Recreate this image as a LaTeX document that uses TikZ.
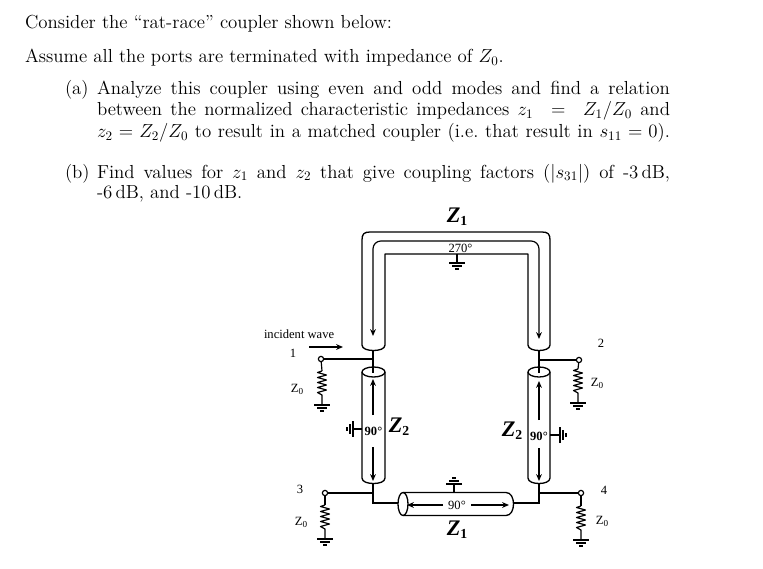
\documentclass[tikz,border=0pt]{standalone}
\usepackage{fontspec}
\usetikzlibrary{arrows.meta}
\newfontfamily\labfont{Liberation Serif}
\newcommand{\lsub}[1]{\raisebox{-0.35ex}{\scriptsize #1}}
\newcommand{\bigZ}[1]{{\fontsize{17}{20}\selectfont\bfseries\itshape Z\raisebox{-0.3ex}{\upshape\fontsize{10.5}{12}\selectfont #1}}}
\newcommand{\jline}[1]{\makebox[437.5pt][s]{#1}}
\tikzset{
  x=0.7635pt,y=-0.7635pt,
  wire/.style={line width=0.9pt,line cap=butt},
  tube/.style={line width=1pt},
  flow/.style={line width=0.9pt,-{Stealth[length=5.2pt,width=4.4pt]}},
  flowtwo/.style={line width=0.9pt,{Stealth[length=5.2pt,width=4.4pt]}-{Stealth[length=5.2pt,width=4.4pt]}},
  txt/.style={anchor=base west,inner sep=0pt,outer sep=0pt,font=\Large},
  lab/.style={inner sep=0pt,outer sep=0pt,font=\labfont\fontsize{9.6}{12}\selectfont},
  labb/.style={inner sep=0pt,outer sep=0pt,font=\labfont\bfseries\fontsize{9.6}{12}\selectfont},
  port/.style={circle,draw,fill=white,line width=0.9pt,inner sep=0pt,minimum size=4pt},
  gnd/.pic={\draw[wire] (-8,0)--(8,0) (-5,3)--(5,3) (-2,6)--(2,6);},
  term/.pic={
    \coordinate (-top) at (0,0);
    \draw[wire,line join=round] (0,0)--(-4.5,1.5)--(4.5,4)--(-4.5,6.5)--(4.5,9)--(-4.5,11.5)--(4.5,14)--(-4.5,16.5)--(4.5,19)--(-4.5,21.5)--(0,24)--(0,34);
    \draw[wire] (-8,34)--(8,34) (-5,37)--(5,37) (-2,40)--(2,40);
  }
}
\begin{document}
\begin{tikzpicture}
\useasboundingbox (0,0) rectangle (763,569);
% text
\node[txt] (t1) at (25,29) {Consider the “rat-race” coupler shown below:};
\node[txt] (t2) at (25,63) {Assume all the ports are terminated with impedance of $Z_0$.};
\node[txt] (a0) at (65,95) {(a)};
\node[txt] (a1) at (97,95) {\jline{Analyze this coupler using even and odd modes and find a relation}};
\node[txt] (a2) at (97,116) {\jline{between the normalized characteristic impedances $z_1\;=\;Z_1/Z_0$ and}};
\node[txt] (a3) at (97,138) {\jline{$z_2=Z_2/Z_0$ to result in a matched coupler (i.e.\ that result in $s_{11}=0$).}};
\node[txt] (b0) at (65,178) {(b)};
\node[txt] (b1) at (97,178) {\jline{Find values for $z_1$ and $z_2$ that give coupling factors ($|s_{31}|$) of -3\,dB,}};
\node[txt] (b2) at (97,198) {-6\,dB, and -10\,dB.};
% top U tube
\draw[tube,line join=round] (362,345) -- (362,240) .. controls (362,234) and (364,232) .. (370,232)
  -- (542,232) .. controls (548,232) and (550,234) .. (550,240) -- (550,345)
  .. controls (550,349) and (544,350.5) .. (539,350.5) .. controls (534,350.5) and (528,349) .. (528,345)
  -- (528,254) -- (385,254) -- (385,345)
  .. controls (385,349) and (379,350.5) .. (373.5,350.5) .. controls (368,350.5) and (362,349) .. (362,345) -- cycle;
\draw[flowtwo,rounded corners=6pt] (373,336) -- (373,241) -- (539,241) -- (539,339);
% left and right vertical cylinders
\draw[tube] (362,372) -- (362,478) .. controls (362,482) and (368,483.5) .. (373.5,483.5) .. controls (379,483.5) and (385,482) .. (385,478) -- (385,372);
\draw[tube] (373.5,372) ellipse [x radius=11.5,y radius=5];
\draw[tube] (528,372) -- (528,478) .. controls (528,482) and (534,483.5) .. (539,483.5) .. controls (544,483.5) and (550,482) .. (550,478) -- (550,372);
\draw[tube] (539,372) ellipse [x radius=11,y radius=5];
% bottom horizontal cylinder
\draw[tube] (403,492.5) -- (506,492.5) .. controls (511,492.5) and (513.5,498) .. (513.5,504) .. controls (513.5,510) and (511,515.5) .. (506,515.5) -- (403,515.5);
\draw[tube] (403,504) ellipse [x radius=5,y radius=11.5];
% junctions and ports
\coordinate (jt1) at (373,350.5);
\coordinate (jm1) at (373,359);
\coordinate (jc1) at (373,373);
\coordinate (jb1) at (373,483.5);
\coordinate (jm3) at (373,493);
\coordinate (jd1) at (373,503);
\coordinate (hl) at (398,503);
\coordinate (hr) at (513.5,503);
\coordinate (jd2) at (539,503);
\coordinate (jm4) at (539,493);
\coordinate (jb2) at (539,483.5);
\coordinate (jt2) at (539,350.5);
\coordinate (jm2) at (539,360);
\coordinate (jc2) at (539,373);
\node[port] (p1) at (321,359) {};
\node[port] (p2) at (579,360) {};
\node[port] (p3) at (325,493) {};
\node[port] (p4) at (581,493) {};
\draw[wire] (jt1) -- (jc1);
\draw[wire] (jm1) -- (p1);
\draw[wire] (jt2) -- (jc2);
\draw[wire] (jm2) -- (p2);
\draw[wire] (jb1) -- (jd1) -- (hl);
\draw[wire] (jm3) -- (p3);
\draw[wire] (hr) -- (jd2) -- (jb2);
\draw[wire] (jm4) -- (p4);
% terminations
\pic (r1) at (322,371) {term};
\pic (r2) at (578,369) {term};
\pic (r3) at (325,505) {term};
\pic (r4) at (581,506) {term};
\draw[wire] (p1) -- (r1-top);
\draw[wire] (p2) -- (r2-top);
\draw[wire] (p3) -- (r3-top);
\draw[wire] (p4) -- (r4-top);
% stubs and grounds
\coordinate (g1a) at (457,254); \coordinate (g1b) at (457,263);
\draw[wire] (g1a) -- (g1b);
\pic at (g1b) {gnd};
\coordinate (g2a) at (362,429); \coordinate (g2b) at (353,429);
\draw[wire] (g2a) -- (g2b);
\pic[rotate=-90] at (g2b) {gnd};
\coordinate (g3a) at (550,435); \coordinate (g3b) at (560,435);
\draw[wire] (g3a) -- (g3b);
\pic[rotate=90] at (g3b) {gnd};
\coordinate (g4a) at (454,492.5); \coordinate (g4b) at (454,484);
\draw[wire] (g4a) -- (g4b);
\pic[rotate=180] at (g4b) {gnd};
% arrows
\coordinate (i1) at (309,347); \coordinate (i2) at (343,347);
\draw[flow] (i1) -- (i2);
\coordinate (l1) at (373,415); \coordinate (l2) at (373,379);
\draw[flow] (l1) -- (l2);
\coordinate (l3) at (373,447); \coordinate (l4) at (373,481);
\draw[flow] (l3) -- (l4);
\coordinate (r1a) at (539,420); \coordinate (r2a) at (539,381);
\draw[flow] (r1a) -- (r2a);
\coordinate (r3a) at (539,448); \coordinate (r4a) at (539,481);
\draw[flow] (r3a) -- (r4a);
\coordinate (h1) at (443,505); \coordinate (h2) at (407,505);
\draw[flow] (h1) -- (h2);
\coordinate (h3) at (471,505); \coordinate (h4) at (509,505);
\draw[flow] (h3) -- (h4);
% labels
\node[lab,anchor=west] (iw) at (264,334) {incident wave};
\node[lab] (n1) at (293,353) {1};
\node[lab] (n2) at (601,343) {2};
\node[lab] (n3) at (300,489) {3};
\node[lab] (n4) at (604,490) {4};
\node[lab] (z01) at (297,389) {Z\lsub{0}};
\node[lab] (z02) at (597,383) {Z\lsub{0}};
\node[lab] (z03) at (301,522) {Z\lsub{0}};
\node[lab] (z04) at (602,521) {Z\lsub{0}};
\node[lab] (d270) at (460.5,248) {270°};
\node[labb] (d1) at (373.5,431) {90°};
\node[labb] (d2) at (539,436) {90°};
\node[lab] (d3) at (457,505) {90°};
\node[lab] (zt) at (457,217) {\bigZ{1}};
\node[lab] (zb) at (457,530) {\bigZ{1}};
\node[lab] (zl) at (399,427) {\bigZ{2}};
\node[lab] (zr) at (512,431) {\bigZ{2}};
\end{tikzpicture}
\end{document}
